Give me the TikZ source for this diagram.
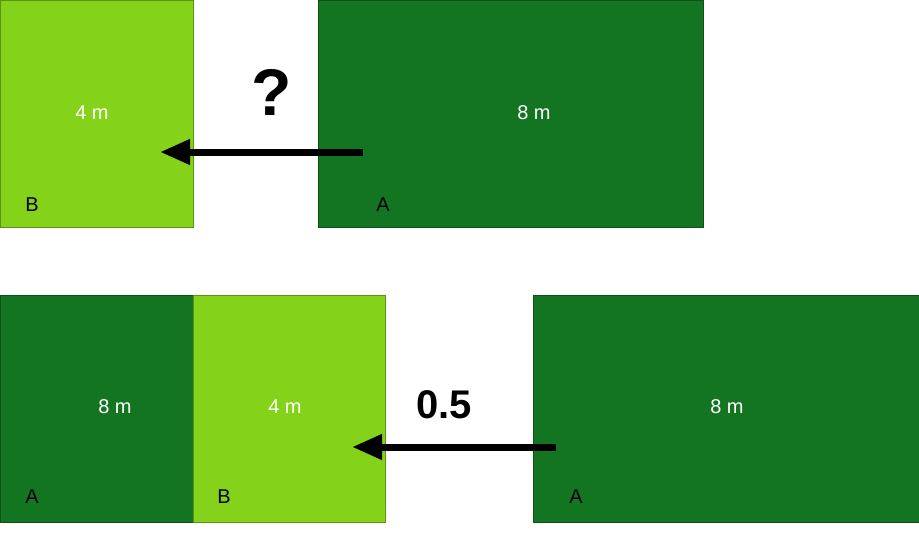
\documentclass[tikz,border=0pt]{standalone}
\usepackage{fontspec}
\setmainfont{Liberation Sans}
\usetikzlibrary{arrows.meta}
\definecolor{dkg}{HTML}{137522}
\definecolor{ltg}{HTML}{84D31A}
\begin{document}
\begin{tikzpicture}[x=1pt,y=-1pt,
  dbox/.style={fill=dkg,draw=dkg!70!black,line width=0.6pt},
  lbox/.style={fill=ltg,draw=ltg!70!black,line width=0.6pt},
  wl/.style={text=white,font=\fontsize{20}{24}\selectfont},
  bl/.style={text=black,font=\fontsize{20}{24}\selectfont},
  arr/.style={line width=7pt,-{Triangle[length=30pt,width=24pt]}}]
\useasboundingbox (0,0) rectangle (919,544);
% top
\path[lbox] (0,0) rectangle (193,227);
\path[dbox] (318,0) rectangle (703,227);
\node[wl] (t4) at (92,113) {4 m};
\node[wl] (t8) at (534,113) {8 m};
\node[bl] (tB) at (32,205) {B};
\node[bl] (tA) at (383,205) {A};
\coordinate (ts) at (363,152);
\coordinate (te) at (160,152);
\draw[arr] (ts) -- (te);
\node[font=\fontsize{66}{70}\selectfont\bfseries] (q) at (272,92) {?};
% bottom
\path[dbox] (0,295) rectangle (205,522);
\path[lbox] (193,295) rectangle (385,522);
\path[dbox] (533,295) rectangle (919,522);
\node[wl] (b8a) at (115,407) {8 m};
\node[wl] (b4) at (285,407) {4 m};
\node[wl] (b8b) at (727,407) {8 m};
\node[bl] (bA1) at (32,497) {A};
\node[bl] (bB) at (224,497) {B};
\node[bl] (bA2) at (576,497) {A};
\coordinate (bs) at (556,447);
\coordinate (be) at (352,447);
\draw[arr] (bs) -- (be);
\node[font=\fontsize{40}{44}\selectfont\bfseries] (h) at (444,405) {0.5};
\end{tikzpicture}
\end{document}
